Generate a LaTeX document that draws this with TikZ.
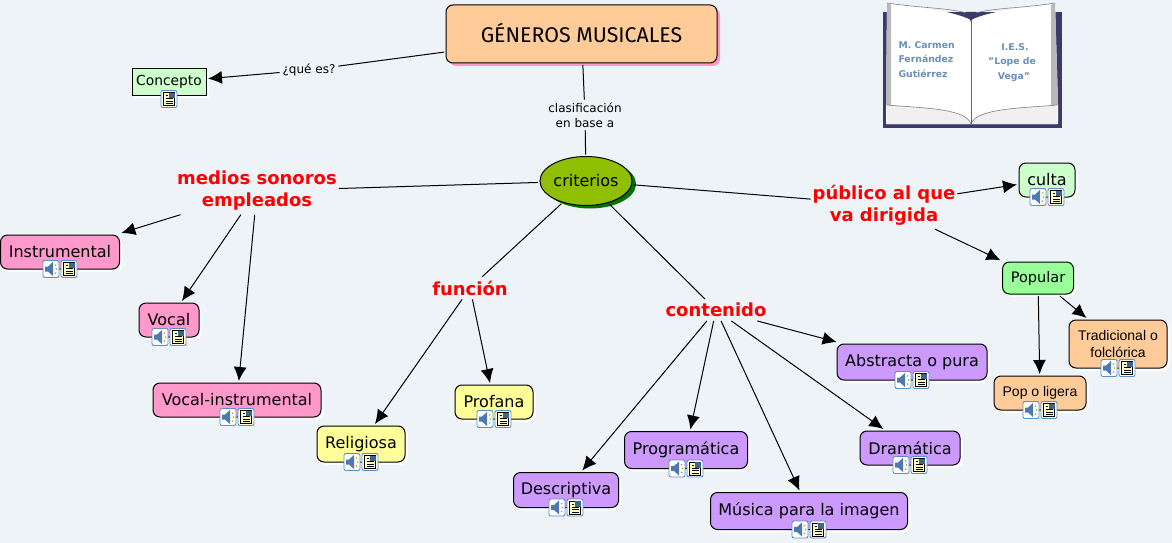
\documentclass[tikz,border=0pt]{standalone}
\usepackage{fontspec}
\setmainfont{DejaVu Sans}
\newfontfamily\arialfont{Liberation Sans}
\newfontfamily\titlefont{Fira Sans}
\usetikzlibrary{arrows.meta,positioning,shapes.geometric,shadows}
\definecolor{bgcol}{HTML}{EDF3F7}
\definecolor{peach}{HTML}{FFCC99}
\definecolor{rosebox}{HTML}{FF99CC}
\definecolor{lemon}{HTML}{FFFF99}
\definecolor{lilac}{HTML}{CC99FF}
\definecolor{mint}{HTML}{99FF99}
\definecolor{palemint}{HTML}{CCFFCC}
\definecolor{olivegreen}{HTML}{8FBF00}
\definecolor{iconblue}{HTML}{5B8FC9}
\definecolor{bookblue}{HTML}{6A8FB8}
\definecolor{bookcover}{HTML}{3C3A6B}
\tikzset{
  box/.style={draw, line width=1pt, rounded corners=7pt, inner sep=0pt, outer sep=2pt, align=center,
    general shadow={fill=bgcol!30!white, shadow xshift=3pt, shadow yshift=-3pt}},
  txt/.style={font=\fontsize{16}{19}\selectfont},
  small/.style={font=\arialfont\fontsize{14}{17}\selectfont},
  linkword/.style={inner sep=1pt, outer sep=2pt, align=center, font=\fontsize{12}{15}\selectfont},
  heading/.style={inner xsep=0pt, inner ysep=2pt, outer sep=2pt, align=center, text=red,
    font=\bfseries\fontsize{18}{22}\selectfont},
  booktext/.style={inner sep=0pt, text=bookblue, font=\bfseries\fontsize{9.3}{11}\selectfont},
  iconframe/.style={draw=iconblue, fill=white, rounded corners=2pt, line width=.9pt},
  soundicon/.pic={
    \draw[iconframe] (-8,-8.5) rectangle (8,8.5);
    \fill[iconblue!85!black] (-6,-2.5) -- (-3,-2.5) -- (2,-7) -- (2,7) -- (-3,2.5) -- (-6,2.5) -- cycle;
    \fill[yellow!70!black] (4.5,4) circle (1) (5.5,0) circle (1) (4.5,-4) circle (1);
  },
  docicon/.pic={
    \draw[iconframe] (-8,-8.5) rectangle (8,8.5);
    \fill[lemon!60!white] (-5.5,-6.5) rectangle (5.5,6.5);
    \draw[line width=.8pt] (-5.5,-6.5) rectangle (5.5,6.5);
    \fill[iconblue!70!black] (0,1) rectangle (5.5,6.5);
    \draw[line width=.8pt] (-3.5,3.5) -- (-1,3.5) (-3.5,0.5) -- (3.5,0.5) (-3.5,-2) -- (3.5,-2) (-3.5,-4.5) -- (3.5,-4.5);
  }
}
\begin{document}
\begin{tikzpicture}[x=1pt, y=1pt, >={Latex[length=14pt,width=13pt]}, line width=1pt, on grid]
\fill[bgcol] (0,0) rectangle (1172,-543);
\useasboundingbox (0,0) rectangle (1172,-543);
% title and first level
\node [box, fill=peach, minimum width=271pt, minimum height=58pt, general shadow={fill=rosebox, shadow xshift=3pt, shadow yshift=-3pt},
  text height=17pt, text depth=0pt, font=\titlefont\fontsize{21.3}{24}\selectfont] (root) at (581.5,-34) {GÉNEROS MUSICALES};
\node [box, fill=palemint, sharp corners, minimum width=74pt, minimum height=26pt, font=\fontsize{13.8}{17}\selectfont] (concepto) [below left=48pt and 412.5pt of root] {Concepto};
\node [linkword] (queEs) [below left=36pt and 272.5pt of root] {¿qué es?};
\node [linkword] (clasif) [below right=81pt and 3.5pt of root] {clasificación\\en base a};
\node [draw, ellipse, fill=olivegreen, inner sep=0pt, outer sep=2pt, minimum width=88pt, minimum height=49pt, font=\fontsize{16}{19}\selectfont,
  general shadow={fill=green!45!black, shadow xshift=4pt, shadow yshift=-3pt}] (criterios) [below right=66pt and 1pt of clasif] {criterios};
% headings
\node [heading] (medios) [below left=10pt and 329pt of criterios] {medios sonoros\\empleados};
\node [heading] (funcion) [below left=107pt and 116pt of criterios] {función};
\node [heading] (contenido) [below right=129pt and 130pt of criterios] {contenido};
\node [heading] (publico) [below right=24pt and 298pt of criterios] {público al que\\va dirigida};
% medios sonoros
\node [box, txt, fill=rosebox, minimum width=119pt, minimum height=34pt] (instrumental) [below left=61pt and 197pt of medios] {Instrumental};
\node [box, txt, fill=rosebox, minimum width=60pt, minimum height=34pt] (vocal) [below left=129pt and 88pt of medios] {Vocal};
\node [box, txt, fill=rosebox, minimum width=168pt, minimum height=34pt] (vocalinstr) [below left=209pt and 20pt of medios] {Vocal-instrumental};
% funcion
\node [box, txt, fill=lemon, minimum width=88pt, minimum height=36pt] (religiosa) [below left=156pt and 109pt of funcion] {Religiosa};
\node [box, txt, fill=lemon, minimum width=78pt, minimum height=34pt] (profana) [below right=114pt and 24pt of funcion] {Profana};
% contenido
\node [box, txt, fill=lilac, minimum width=105pt, minimum height=35pt] (descriptiva) [below left=180pt and 150pt of contenido] {Descriptiva};
\node [box, txt, fill=lilac, minimum width=123pt, minimum height=37pt] (programatica) [below left=140pt and 30pt of contenido] {Programática};
\node [box, txt, fill=lilac, minimum width=197pt, minimum height=37pt] (musica) [below right=201pt and 93pt of contenido] {Música para la imagen};
\node [box, txt, fill=lilac, minimum width=100pt, minimum height=34pt] (dramatica) [below right=138pt and 194pt of contenido] {Dramática};
\node [box, txt, fill=lilac, minimum width=150pt, minimum height=36pt] (abstracta) [below right=52pt and 196pt of contenido] {Abstracta o pura};
% publico
\node [box, txt, fill=palemint, minimum width=56pt, minimum height=34pt] (culta) [above right=25pt and 163pt of publico] {culta};
\node [box, fill=mint, minimum width=71pt, minimum height=32pt, font=\fontsize{14.5}{17}\selectfont] (popular) [below right=73pt and 154pt of publico] {Popular};
\node [box, small, fill=peach, minimum width=98pt, minimum height=48pt] (tradicional) [below right=66pt and 80pt of popular] {Tradicional o\\folclórica};
\node [box, small, fill=peach, minimum width=92pt, minimum height=34pt] (pop) [below right=115pt and 2pt of popular] {Pop o ligera};
% edges
\path
(root) edge (queEs)
(root) edge (clasif)
(clasif) edge (criterios)
(criterios) edge (medios)
(criterios) edge (funcion)
(criterios) edge (contenido)
(criterios) edge (publico)
;
\path[->]
(queEs) edge (concepto)
(medios) edge (instrumental)
(medios) edge (vocal)
(medios) edge (vocalinstr)
(funcion) edge (religiosa)
(funcion) edge (profana)
(contenido) edge (descriptiva)
(contenido) edge (programatica)
(contenido) edge (musica)
(contenido) edge (dramatica)
(contenido) edge (abstracta)
(publico) edge (culta)
(publico) edge (popular)
(popular) edge (tradicional)
(popular) edge (pop)
;
% icons
\pic at ([yshift=-2pt]concepto.south) {docicon};
\foreach \n in {instrumental,vocal,vocalinstr,religiosa,profana,descriptiva,programatica,musica,dramatica,abstracta,culta,tradicional,pop} {
  \pic at ([xshift=-9pt,yshift=2pt]\n.south) {soundicon};
  \pic at ([xshift=9pt,yshift=2pt]\n.south) {docicon};
}
% book
\fill[bookcover] (883,-12) rectangle (1062,-128);
\fill[white] (887,-3) .. controls (920,-8) and (950,-10) .. (971,-20) .. controls (992,-10) and (1025,-8) .. (1055,-3) -- (1058,-105) -- (1058,-124) -- (971,-124) -- (886,-124) -- (886,-105) -- cycle;
\fill[gray!55] (887,-3) -- (891,-5) -- (891,-106) -- (886,-105) -- cycle (1055,-3) -- (1051,-5) -- (1051,-106) -- (1058,-105) -- cycle;
\fill[bookcover] (966,-12) -- (976,-12) -- (971,-22) -- cycle;
\draw[gray, line width=.6pt] (887,-3) .. controls (920,-8) and (950,-8) .. (966,-13) (1055,-3) .. controls (1025,-8) and (992,-8) .. (976,-13);
\fill[gray!12] (887,-105) .. controls (920,-108) and (966,-108) .. (971,-124) .. controls (976,-108) and (1025,-108) .. (1057,-105) -- (1057,-124) -- (887,-124) -- cycle;
\draw[gray, line width=.6pt] (887,-105) .. controls (920,-108) and (966,-108) .. (971,-124) .. controls (976,-108) and (1025,-108) .. (1057,-105);
\draw[gray!80!black, line width=.7pt] (971,-20) -- (971,-124);
\node [booktext, anchor=west] (autor1) at (898,-45) {M. Carmen};
\node [booktext, anchor=west] (autor2) at (898,-59) {Fernández};
\node [booktext, anchor=west] (autor3) at (898,-74) {Gutiérrez};
\node [booktext] (ies1) at (1015,-47) {I.E.S.};
\node [booktext] (ies2) at (1012,-62) {"Lope de};
\node [booktext] (ies3) at (1014,-77) {Vega"};
\end{tikzpicture}
\end{document}
